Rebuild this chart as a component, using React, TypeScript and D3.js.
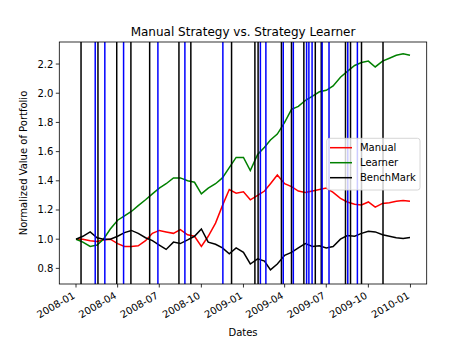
import * as d3 from "d3";

// sample dates (1st and 16th of each month) and portfolio values
const dates = [
  "2008-01-01", "2008-01-16", "2008-02-01", "2008-02-16", "2008-03-01", "2008-03-16",
  "2008-04-01", "2008-04-16", "2008-05-01", "2008-05-16", "2008-06-01", "2008-06-16",
  "2008-07-01", "2008-07-16", "2008-08-01", "2008-08-16", "2008-09-01", "2008-09-16",
  "2008-10-01", "2008-10-16", "2008-11-01", "2008-11-16", "2008-12-01", "2008-12-16",
  "2009-01-01", "2009-01-16", "2009-02-01", "2009-02-16", "2009-03-01", "2009-03-16",
  "2009-04-01", "2009-04-16", "2009-05-01", "2009-05-16", "2009-06-01", "2009-06-16",
  "2009-07-01", "2009-07-16", "2009-08-01", "2009-08-16", "2009-09-01", "2009-09-16",
  "2009-10-01", "2009-10-16", "2009-11-01", "2009-11-16", "2009-12-01", "2009-12-16",
  "2009-12-31",
];

const manual = [
  1.0, 1.0, 0.99, 0.985, 0.995, 1.0, 0.97, 0.95, 0.95, 0.955, 0.99, 1.04,
  1.06, 1.05, 1.04, 1.065, 1.03, 1.02, 0.95, 1.02, 1.11, 1.23, 1.34, 1.315,
  1.325, 1.27, 1.3, 1.33, 1.38, 1.44, 1.38, 1.36, 1.33, 1.32, 1.33, 1.34,
  1.35, 1.32, 1.28, 1.255, 1.24, 1.235, 1.255, 1.22, 1.245, 1.25, 1.26, 1.265,
  1.26,
];

const learner = [
  1.0, 0.98, 0.95, 0.96, 1.0, 1.07, 1.13, 1.16, 1.19, 1.23, 1.27, 1.31,
  1.35, 1.38, 1.42, 1.42, 1.4, 1.39, 1.31, 1.35, 1.38, 1.42, 1.49, 1.56,
  1.56, 1.47, 1.58, 1.63, 1.68, 1.72, 1.8, 1.89, 1.91, 1.95, 1.98, 2.01,
  2.02, 2.05, 2.11, 2.15, 2.19, 2.21, 2.22, 2.18, 2.22, 2.24, 2.26, 2.27,
  2.26,
];

const benchmark = [
  1.0, 1.02, 1.05, 1.01, 1.0, 1.0, 1.02, 1.045, 1.06, 1.04, 1.01, 0.99,
  0.96, 0.93, 0.98, 0.97, 0.995, 1.02, 1.07, 0.98, 0.965, 0.94, 0.9, 0.94,
  0.91, 0.83, 0.865, 0.85, 0.79, 0.83, 0.89, 0.91, 0.94, 0.97, 0.95, 0.955,
  0.94, 0.95, 1.0, 1.025, 1.02, 1.04, 1.055, 1.05, 1.03, 1.02, 1.01, 1.005,
  1.012,
];

// trade markers
const shortEntries = [
  "2008-01-12", "2008-02-18", "2008-03-30", "2008-04-30", "2008-06-10", "2008-08-13",
  "2008-09-08", "2008-12-06", "2009-01-26", "2009-02-02", "2009-03-25", "2009-04-16",
  "2009-05-13", "2009-06-07", "2009-06-20", "2009-08-12", "2009-08-23", "2009-09-16",
  "2009-11-02",
];
const longEntries = [
  "2008-02-12", "2008-03-04", "2008-04-14", "2008-06-28", "2008-08-26", "2008-11-17",
  "2009-02-07", "2009-02-19", "2009-03-29", "2009-04-20", "2009-05-19", "2009-05-24",
  "2009-05-31", "2009-06-22", "2009-07-07", "2009-08-17", "2009-09-07",
];

const yTicks = [0.8, 1.0, 1.2, 1.4, 1.6, 1.8, 2.0, 2.2];

const series = [
  { name: "Manual", values: manual, color: "#ff0000" },
  { name: "Learner", values: learner, color: "#008000" },
  { name: "BenchMark", values: benchmark, color: "#000000" },
];

const parse = d3.timeParse("%Y-%m-%d");
const font = "DejaVu Sans, sans-serif";

const App = () => {
  const width = 474;
  const height = 355;
  const left = 59.3;
  const right = 426.7;
  const top = 42;
  const bottom = 284;

  const parsed = dates.map((d) => parse(d)!);
  const [d0, d1] = d3.extent(parsed) as [Date, Date];
  const pad = (d1.getTime() - d0.getTime()) * 0.05;
  const x = d3
    .scaleTime()
    .domain([new Date(d0.getTime() - pad), new Date(d1.getTime() + pad)])
    .range([left, right]);
  const y = d3.scaleLinear().domain([0.693, 2.351]).range([bottom, top]);

  const xTicks = d3.timeMonth.every(3)!.range(parse("2008-01-01")!, parse("2010-01-02")!);
  const fmt = d3.timeFormat("%Y-%m");

  const line = d3
    .line<number>()
    .x((_, i) => x(parsed[i]))
    .y((v) => y(v));

  return (
    <svg
      width={width}
      height={height}
      style={{ position: "absolute", left: 0, top: 0, background: "#fff" }}
      fontFamily={font}
    >
      {series.map((s) => (
        <path key={s.name} d={line(s.values)!} fill="none" stroke={s.color} strokeWidth={1.5} />
      ))}
      {shortEntries.map((d) => (
        <line key={"s" + d} x1={x(parse(d)!)} x2={x(parse(d)!)} y1={top} y2={bottom} stroke="#000" strokeWidth={1.5} />
      ))}
      {longEntries.map((d) => (
        <line key={"l" + d} x1={x(parse(d)!)} x2={x(parse(d)!)} y1={top} y2={bottom} stroke="#0000ff" strokeWidth={1.5} />
      ))}

      {/* spines */}
      <rect x={left} y={top} width={right - left} height={bottom - top} fill="none" stroke="#000" strokeWidth={0.8} />

      {/* y axis */}
      {yTicks.map((t) => (
        <g key={t} transform={`translate(${left},${y(t)})`}>
          <line x1={-3.5} x2={0} stroke="#000" strokeWidth={0.8} />
          <text x={-6} dy="0.35em" textAnchor="end" fontSize={10}>
            {t.toFixed(1)}
          </text>
        </g>
      ))}

      {/* x axis */}
      {xTicks.map((t) => (
        <g key={t.getTime()} transform={`translate(${x(t)},${bottom})`}>
          <line y1={0} y2={3.5} stroke="#000" strokeWidth={0.8} />
          <text transform="translate(-4,7) rotate(-30)" dy="0.75em" textAnchor="end" fontSize={10}>
            {fmt(t)}
          </text>
        </g>
      ))}

      <text x={(left + right) / 2} y={336} textAnchor="middle" fontSize={10}>
        Dates
      </text>
      <text
        transform={`translate(27,${(top + bottom) / 2}) rotate(-90)`}
        textAnchor="middle"
        fontSize={10}
      >
        Normalized Value of Portfolio
      </text>
      <text x={(left + right) / 2} y={36} textAnchor="middle" fontSize={12}>
        Manual Strategy vs. Strategy Learner
      </text>

      {/* legend */}
      <g transform="translate(326.7,138.3)">
        <rect width={93.3} height={51.7} rx={2.5} fill="#fff" fillOpacity={0.8} stroke="#cccccc" strokeWidth={0.8} />
        {series.map((s, i) => (
          <g key={s.name} transform={`translate(0,${9.4 + i * 15})`}>
            <line x1={3.3} x2={25.3} stroke={s.color} strokeWidth={1.5} />
            <text x={33.3} dy="0.35em" fontSize={10}>
              {s.name}
            </text>
          </g>
        ))}
      </g>
    </svg>
  );
};

export default App;
